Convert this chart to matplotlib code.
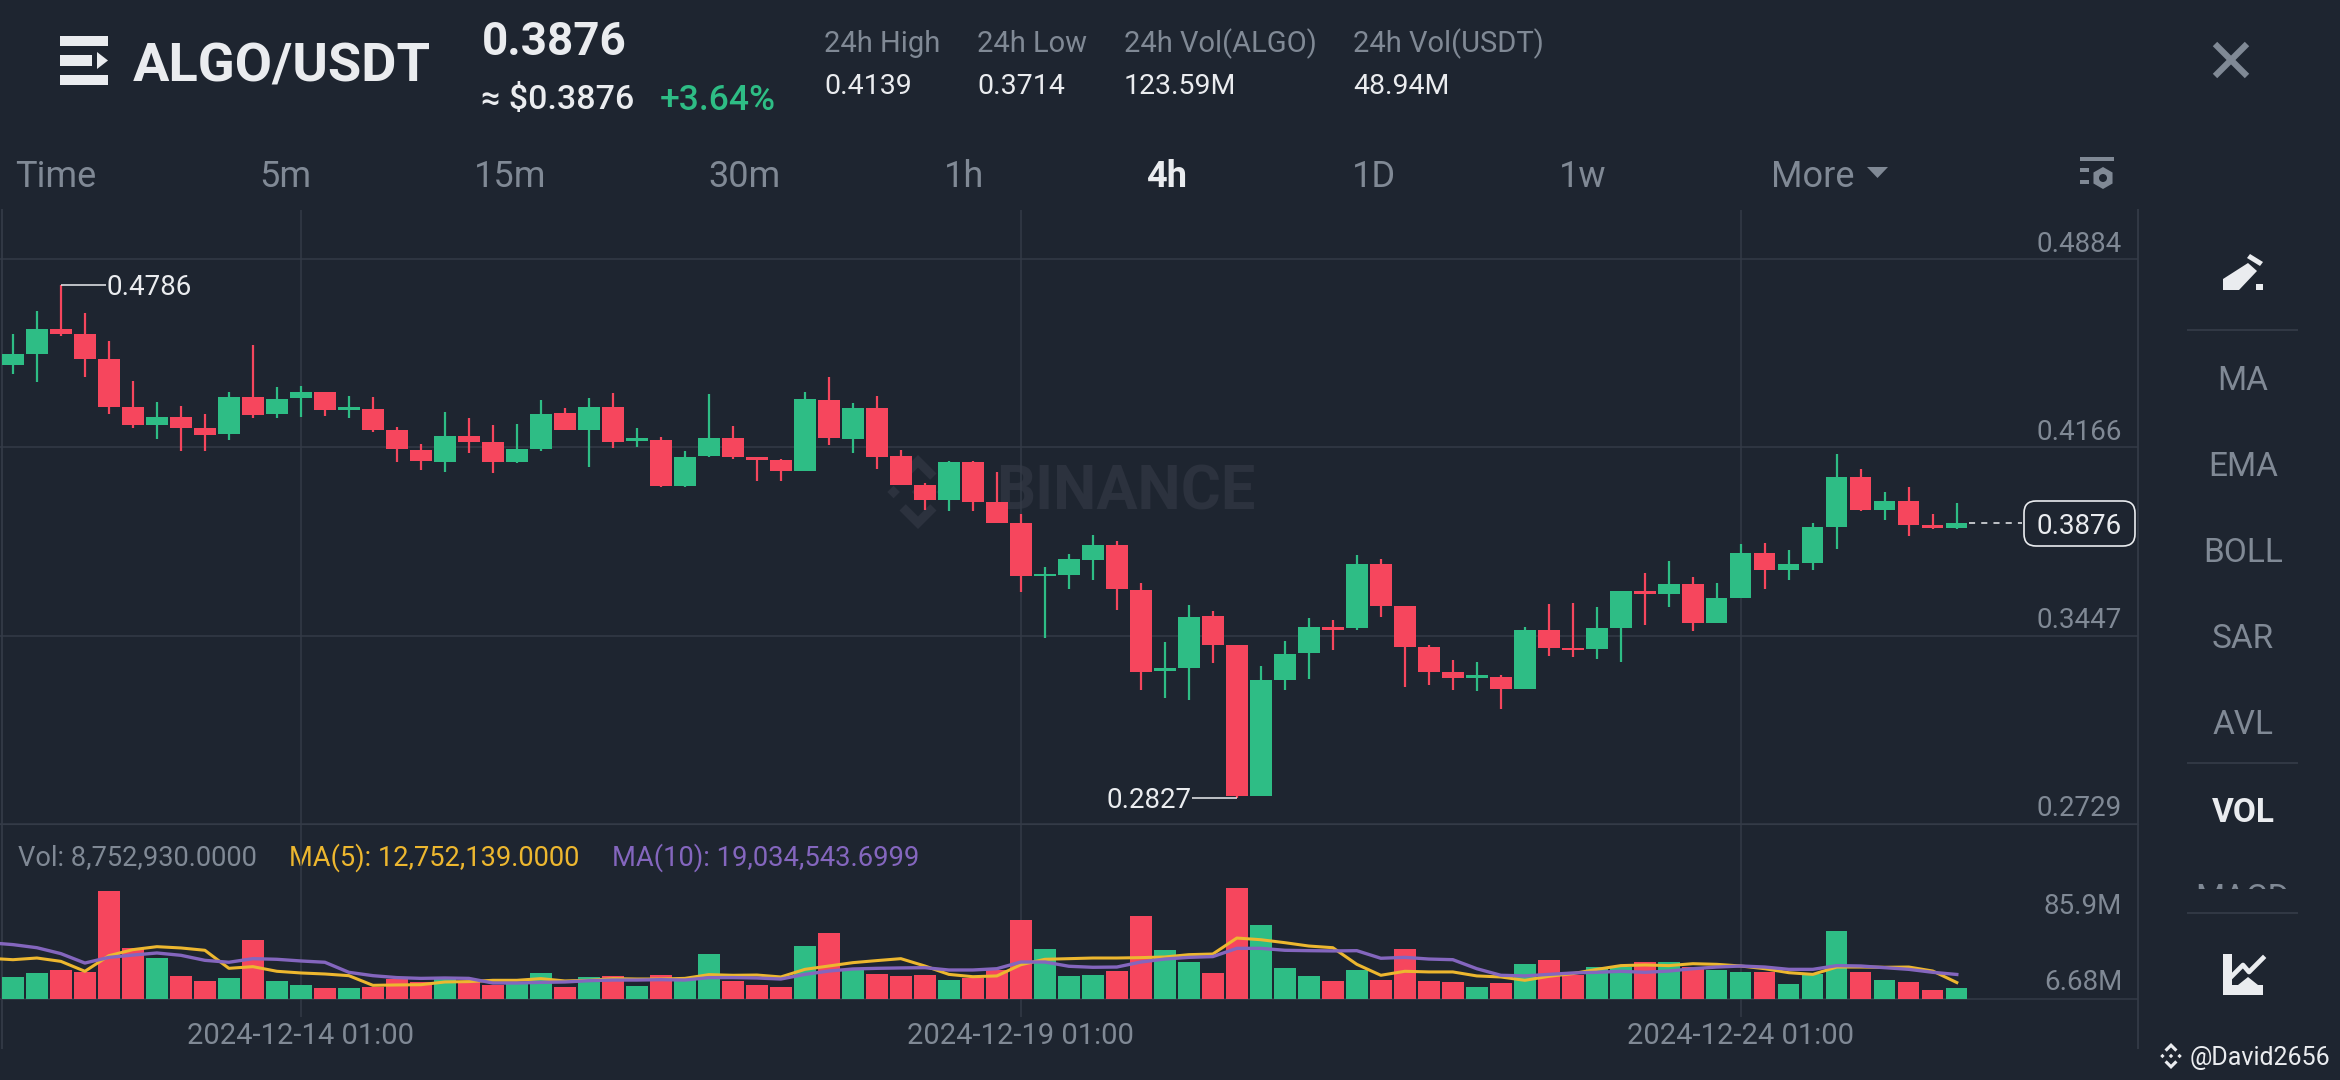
import numpy as np
import matplotlib
matplotlib.use('Agg')
import matplotlib.pyplot as plt
from matplotlib.patches import Polygon, Rectangle, FancyBboxPatch

plt.rcParams['font.family'] = ['Roboto', 'DejaVu Sans']

# candles, oldest first, 4h bars
opens = [.4480, .4521, .4618, .4599, .4503, .4319, .4250, .4280, .4240, .4218, .4357, .4292, .4354, .4376, .4308, .4312, .4231,
         .4156, .4111, .4210, .4185, .4108, .4161, .4297, .4233, .4320, .4191, .4193, .4019, .4131, .4203, .4129, .4119, .4077,
         .4348, .4199, .4315, .4131, .4022, .3965, .4110, .3956, .3877, .3674, .3679, .3737, .3793, .3622, .3310, .3325, .3520,
         .3410, .2836, .3277, .3379, .3478, .3477, .3722, .3559, .3403, .3308, .3286, .3290, .3244, .3469, .3401, .3397, .3476,
         .3618, .3607, .3645, .3496, .3592, .3761, .3697, .3724, .3863, .4054, .3926, .3962, .3870, .3858]
highs = [.4599, .4687, .4786, .4678, .4572, .4420, .4340, .4325, .4294, .4376, .4557, .4398, .4400, .4377, .4362, .4357, .4242,
         .4177, .4300, .4278, .4252, .4254, .4345, .4317, .4353, .4372, .4241, .4207, .4151, .4370, .4247, .4130, .4120, .4377,
         .4436, .4334, .4363, .4154, .4028, .4115, .4114, .4070, .3910, .3710, .3760, .3832, .3807, .3646, .3421, .3564, .3539,
         .3411, .3332, .3425, .3513, .3506, .3756, .3741, .3560, .3412, .3352, .3346, .3297, .3478, .3566, .3570, .3555, .3619,
         .3685, .3733, .3669, .3646, .3795, .3802, .3772, .3875, .4139, .4082, .3994, .4014, .3911, .3952]
lows = [.4446, .4417, .4591, .4436, .4293, .4240, .4199, .4153, .4150, .4194, .4279, .4279, .4283, .4287, .4277, .4226, .4111,
        .4079, .4070, .4143, .4066, .4107, .4152, .4231, .4092, .4165, .4166, .4016, .4016, .4130, .4123, .4037, .4037, .4076,
        .4175, .4146, .4083, .4021, .3926, .3923, .3921, .3876, .3614, .3436, .3623, .3660, .3544, .3239, .3210, .3201, .3343,
        .2827, .2835, .3240, .3282, .3392, .3469, .3519, .3250, .3259, .3240, .3235, .3166, .3243, .3370, .3365, .3357, .3347,
        .3487, .3557, .3464, .3495, .3591, .3623, .3659, .3697, .3777, .3922, .3888, .3827, .3854, .3854]
closes = [.4521, .4618, .4600, .4503, .4321, .4251, .4280, .4240, .4214, .4358, .4291, .4352, .4377, .4308, .4320, .4232, .4158,
          .4112, .4209, .4186, .4108, .4159, .4294, .4232, .4321, .4187, .4200, .4019, .4129, .4202, .4129, .4119, .4077, .4351,
          .4200, .4315, .4130, .4023, .3965, .4111, .3956, .3877, .3676, .3683, .3738, .3793, .3623, .3309, .3323, .3518, .3411,
          .2836, .3276, .3378, .3478, .3467, .3722, .3560, .3404, .3309, .3285, .3296, .3244, .3469, .3401, .3390, .3476, .3618,
          .3606, .3645, .3496, .3590, .3761, .3699, .3722, .3863, .4054, .3926, .3962, .3870, .3859, .3876]

# volume in millions
volumes = [17.3, 20.2, 22.8, 21.2, 84.1, 39.6, 31.6, 18.1, 14.0, 16.3, 45.8, 14.2, 11.1, 8.3, 8.5, 9.3, 15.5, 13.5, 15.5, 14.0,
           10.6, 12.4, 20.4, 9.3, 17.3, 18.1, 9.8, 18.4, 14.5, 34.9, 13.7, 11.1, 9.3, 41.4, 51.2, 22.2, 19.7, 17.9, 18.4, 15.0,
           16.6, 22.2, 61.1, 38.5, 17.6, 18.6, 21.5, 64.7, 37.8, 28.5, 20.2, 85.9, 57.7, 23.8, 18.1, 13.7, 22.2, 14.7, 38.8, 13.7,
           12.9, 9.3, 12.2, 26.9, 30.0, 18.4, 24.8, 24.8, 29.0, 28.5, 24.8, 22.2, 21.0, 21.0, 11.9, 19.7, 52.5, 20.7, 15.0, 12.9,
           6.7, 8.75]
# moving averages start one bar before the visible window
ma5 = [31.6, 30.5, 31.8, 29.2, 21.5, 33.6, 38.3, 40.6, 39.6, 37.8, 23.8, 25.1, 21.5, 20.2, 19.4, 18.1, 10.6, 10.9, 11.1, 13.2, 13.5,
       14.5, 14.5, 15.8, 14.0, 14.5, 15.8, 15.5, 15.5, 16.0, 18.9, 18.4, 18.6, 17.1, 23.0, 25.6, 28.2, 29.8, 31.3, 25.6, 19.1,
       17.3, 17.9, 26.6, 30.8, 31.3, 31.8, 31.8, 32.1, 32.6, 34.4, 34.9, 47.3, 46.0, 43.7, 41.1, 39.8, 26.9, 18.4, 21.5, 21.0,
       21.0, 17.9, 17.1, 14.5, 17.6, 19.7, 23.0, 25.9, 26.4, 25.9, 27.4, 26.9, 25.6, 23.5, 20.4, 19.1, 24.8, 24.8, 24.6, 24.8,
       21.7, 12.75]
ma10 = [43.7, 42.2, 39.8, 35.2, 27.9, 32.3, 34.1, 35.7, 33.9, 30.0, 28.5, 31.3, 30.8, 29.5, 28.5, 20.7, 18.1, 16.6, 16.0, 16.3, 16.0,
        12.4, 12.4, 12.9, 13.2, 14.2, 14.7, 14.7, 15.0, 14.7, 16.6, 16.6, 16.3, 15.5, 19.1, 21.7, 23.3, 23.8, 24.1, 24.3, 22.5,
        22.5, 23.5, 28.7, 28.7, 25.4, 24.6, 24.8, 28.7, 31.0, 32.3, 32.9, 39.3, 39.3, 37.8, 37.5, 37.3, 37.5, 31.6, 32.3, 31.0,
        30.5, 23.5, 18.4, 17.9, 19.1, 20.2, 20.7, 21.5, 20.7, 21.7, 23.5, 24.8, 25.6, 24.8, 23.0, 23.0, 25.9, 25.6, 24.3, 23.0,
        20.7, 19.03]

price_ticks = [.4884, .4166, .3447, .2729]
price_tick_labels = ['0.4884', '0.4166', '0.3447', '0.2729']
date_ticks = [12, 42, 72]
date_labels = ['2024-12-14 01:00', '2024-12-19 01:00', '2024-12-24 01:00']
tabs = ['Time', '5m', '15m', '30m', '1h', '4h', '1D', '1w']
side_items = ['MA', 'EMA', 'BOLL', 'SAR', 'AVL']

BG = '#1E2530'
GRID = '#343B47'
GREY = '#808995'
WHITE = '#EAECEF'
RED = '#F6465D'
GREEN = '#2EBD85'
YELLOW = '#EDB72F'
PURPLE = '#8466BE'
MARK = '#2C323E'
W, H = 2340, 1080


def make_axes(left, top, right, bottom):
    ax = fig.add_axes([left / W, 1 - bottom / H, (right - left) / W, (bottom - top) / H])
    ax.patch.set_alpha(0)
    for s in ax.spines.values():
        s.set_visible(False)
    return ax


def logo(cx, cy, r, color):
    shapes = [[(0, -.17), (.17, 0), (0, .17), (-.17, 0)],
              [(-.66, -.17), (-.49, 0), (-.66, .17), (-.83, 0)],
              [(.66, -.17), (.83, 0), (.66, .17), (.49, 0)],
              [(0, -1), (.5, -.5), (.33, -.33), (0, -.66), (-.33, -.33), (-.5, -.5)],
              [(0, 1), (.5, .5), (.33, .33), (0, .66), (-.33, .33), (-.5, .5)]]
    for s in shapes:
        bg.add_patch(Polygon([(cx + a * r, cy + b * r) for a, b in s], color=color, lw=0))


def label(x, y, s, **kw):
    # va=center sits a little high for digits and caps
    return bg.text(x, y + 3, s, va='center', **kw)


fig = plt.figure(figsize=(W / 100, H / 100), dpi=100, facecolor=BG)

# full figure layer in pixel coordinates for the app chrome
bg = fig.add_axes([0, 0, 1, 1], zorder=0)
bg.set_xlim(0, W)
bg.set_ylim(H, 0)
bg.axis('off')

ax = make_axes(0, 210, 2138, 823.6)
ax_vol = make_axes(0, 823.6, 2138, 1017)
ax.set_zorder(1)
ax_vol.set_zorder(1)

x = np.arange(len(opens))
o, h, l, c = map(np.array, (opens, highs, lows, closes))
colors = [GREEN if b >= a else RED for a, b in zip(o, c)]

ax.vlines(x, l, h, colors=colors, lw=1.6, zorder=3)
ax.bar(x, np.abs(c - o), bottom=np.minimum(o, c), width=.89, color=colors, zorder=4)
ax.set_xlim(-.5375, 88.55)
ax.set_ylim(.2729, .5072)
ax.set_xticks(date_ticks)
ax.set_yticks(price_ticks)
ax.tick_params(length=0, labelbottom=False, labelleft=False)
ax.grid(True, color=GRID, lw=1.1, zorder=1)
ax.set_axisbelow(True)

for p, lab in zip(price_ticks, price_tick_labels):
    ax.annotate(lab, (1, p), xycoords=ax.get_yaxis_transform(), xytext=(-16, 15), textcoords='offset pixels',
                ha='right', va='center', color=GREY, fontsize=20, annotation_clip=False)

# high / low markers
ax.hlines(highs[2], 2, 3.9, colors=WHITE, lw=1.1, zorder=3)
ax.hlines(lows[51], 49.15, 51, colors=WHITE, lw=1.1, zorder=3)
ax.annotate('0.4786', (2, highs[2]), xytext=(46, 0), textcoords='offset pixels', ha='left', va='center_baseline',
            color=WHITE, fontsize=20)
ax.annotate('0.2827', (51, lows[51]), xytext=(-45, 0), textcoords='offset pixels', ha='right', va='center_baseline',
            color=WHITE, fontsize=20)

# last price
ax.hlines(closes[-1], 81.5, 83.7, colors=WHITE, lw=1.1, linestyles=(0, (4, 4)), zorder=3)
bg.add_patch(FancyBboxPatch((2036, 513), 87, 21, boxstyle='round,pad=12,rounding_size=12', fc=BG, ec=WHITE, lw=1.2))
label(2079.5, 524, '0.3876', ha='center', color=WHITE, fontsize=20)

# volume pane
ax_vol.bar(x, volumes, width=.89, color=colors, zorder=3)
x_ma = np.arange(-1, len(opens))
ax_vol.plot(x_ma, ma5, color=YELLOW, lw=2.2, zorder=4)
ax_vol.plot(x_ma, ma10, color=PURPLE, lw=2.4, zorder=5)
ax_vol.set_xlim(-.5375, 88.55)
ax_vol.set_ylim(-13.97, 136.1)
ax_vol.set_xticks(date_ticks, labels=date_labels)
ax_vol.set_yticks([0])
ax_vol.tick_params(length=0, labelleft=False, labelcolor=GREY, labelsize=21, pad=3.5)
ax_vol.grid(True, color=GRID, lw=1.1, zorder=1)
ax_vol.set_axisbelow(True)
ax_vol.spines['top'].set_visible(True)
ax_vol.spines['top'].set_color(GRID)

label(18, 855, 'Vol: 8,752,930.0000', color=GREY, fontsize=19.6)
label(289, 855, 'MA(5): 12,752,139.0000', color=YELLOW, fontsize=19.6)
label(612, 855, 'MA(10): 19,034,543.6999', color=PURPLE, fontsize=19.7)
label(2122, 903, '85.9M', color=GREY, fontsize=20, ha='right')
label(2122, 979, '6.68M', color=GREY, fontsize=20, ha='right')

# chart frame
bg.vlines([1.5, 2138], 209, 1049, colors=GRID, lw=1.3)

# faint watermark behind the candles
logo(918, 492, 37, MARK)
label(996, 489, 'BINANCE', color=MARK, fontsize=44, fontweight='bold')

# header
bg.add_patch(Rectangle((60, 36), 48, 9.5, color=WHITE, lw=0))
bg.add_patch(Rectangle((60, 75), 48, 9.5, color=WHITE, lw=0))
bg.add_patch(Rectangle((60, 55), 32, 11, color=WHITE, lw=0))
bg.add_patch(Polygon([(97, 52), (108, 60.5), (97, 69)], color=WHITE, lw=0))
label(133, 64, 'ALGO/USDT', color=WHITE, fontsize=39, fontweight='bold')
label(482, 39, '0.3876', color=WHITE, fontsize=33, fontweight='bold')
label(481, 97, '≈ $0.3876', color=WHITE, fontsize=24.5, fontweight='medium')
label(660, 97, '+3.64%', color=GREEN, fontsize=25.5, fontweight='medium')

stat_x = [824, 977, 1124, 1353]
stat_names = ['24h High', '24h Low', '24h Vol(ALGO)', '24h Vol(USDT)']
stat_values = ['0.4139', '0.3714', '123.59M', '48.94M']
for sx, name, val in zip(stat_x, stat_names, stat_values):
    label(sx, 41, name, color=GREY, fontsize=21)
    label(sx, 83, val, color=WHITE, fontsize=20.5)

# interval tabs
tab_x = [55.5, 285.5, 510, 745, 964, 1167, 1374, 1583]
for tx, t in zip(tab_x, tabs):
    if t == '4h':
        label(tx, 174, t, color=WHITE, fontsize=26, fontweight='bold', ha='center')
    else:
        label(tx, 174, t, color=GREY, fontsize=26, ha='center')
label(1771, 174, 'More', color=GREY, fontsize=26)
bg.add_patch(Polygon([(1867, 167), (1888, 167), (1877.5, 178)], color=GREY, lw=0))

# settings icon
bg.add_patch(Rectangle((2080, 157), 34, 4, color=GREY, lw=0))
bg.add_patch(Rectangle((2080, 168), 9, 4, color=GREY, lw=0))
bg.add_patch(Rectangle((2080, 180), 9, 4, color=GREY, lw=0))
hex_pts = [(2103 + 11 * np.cos(a), 178 + 11 * np.sin(a)) for a in np.radians(np.arange(30, 390, 60))]
bg.add_patch(Polygon(hex_pts, color=GREY, lw=0))
bg.add_patch(plt.Circle((2103, 178), 4, color=BG, lw=0))

# close button
bg.plot([2215, 2247], [44, 76], color=GREY, lw=4.5, solid_capstyle='butt')
bg.plot([2215, 2247], [76, 44], color=GREY, lw=4.5, solid_capstyle='butt')

# right rail
bg.add_patch(Polygon([(2223, 290), (2223, 279), (2248, 263), (2257, 271), (2239, 290)], color=WHITE, lw=0))
bg.add_patch(Polygon([(2250, 254), (2263, 262), (2260, 266), (2247, 258)], color=WHITE, lw=0))
bg.add_patch(Rectangle((2256, 284), 7, 6, color=WHITE, lw=0))
bg.hlines([330, 763, 913], 2187, 2298, colors=GRID, lw=1.3)
for yy, t in zip([378, 464, 550, 636, 722], side_items):
    label(2243, yy, t, color=GREY, fontsize=24, ha='center')
label(2243, 810, 'VOL', color=WHITE, fontsize=24, fontweight='bold', ha='center')
label(2243, 896, 'MACD', color=GREY, fontsize=24, ha='center')
bg.add_patch(Rectangle((2187, 889), 111, 23, color=BG, lw=0, zorder=5))

bg.add_patch(Rectangle((2223, 954), 9, 41, color=WHITE, lw=0))
bg.add_patch(Rectangle((2223, 985), 40, 10, color=WHITE, lw=0))
bg.plot([2232, 2243, 2249, 2263], [976, 965, 972, 958], color=WHITE, lw=3.4)
bg.add_patch(Polygon([(2238, 985), (2258, 985), (2248, 977)], color=WHITE, lw=0))

# user tag
logo(2171, 1056, 13, WHITE)
label(2190, 1055, '@David2656', color=WHITE, fontsize=18)

fig.savefig('out.png', dpi=100, facecolor=BG)
